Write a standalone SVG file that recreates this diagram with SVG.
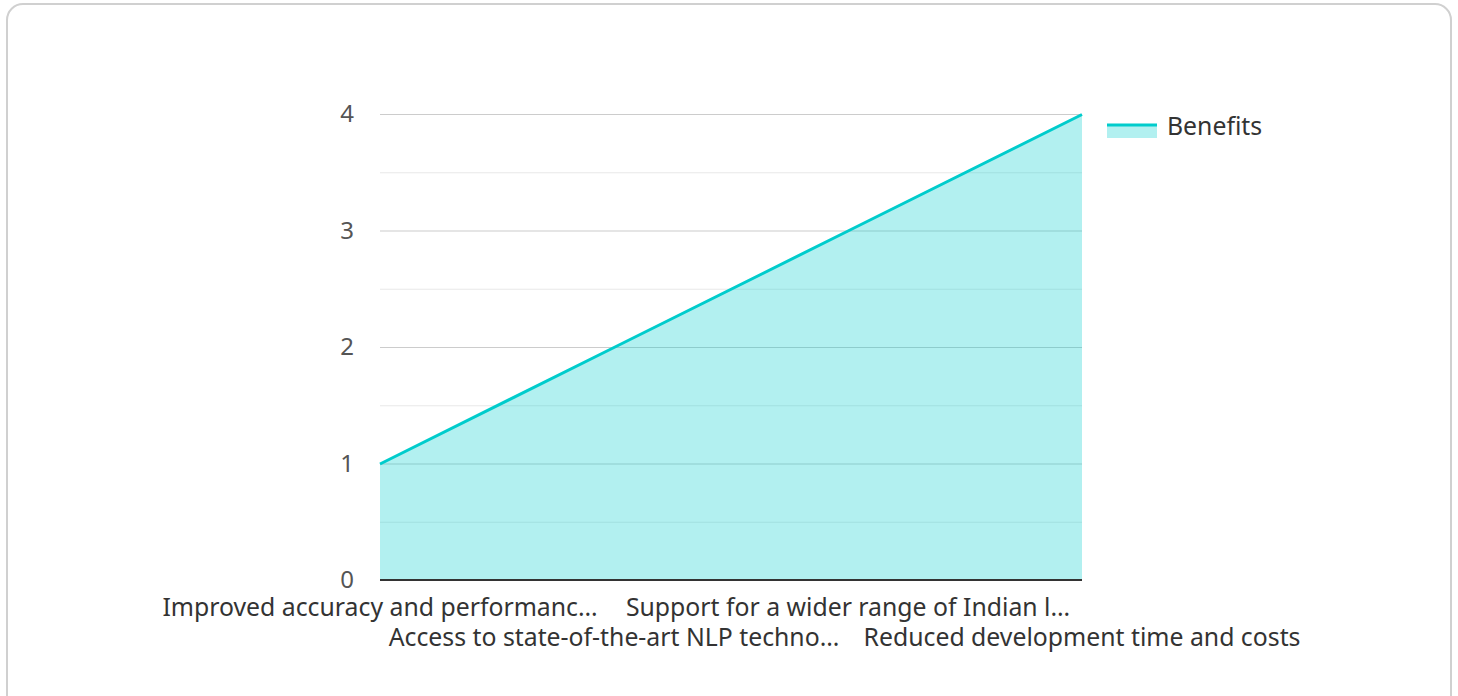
<svg xmlns="http://www.w3.org/2000/svg" width="1458" height="696" viewBox="0 0 1458 696">
<style>
text{font-family:"Noto Sans","Open Sans","DejaVu Sans",sans-serif;font-size:24.8px;fill:#333}
.ytick{text-anchor:end;fill:#555;font-size:24px}
.xtick{text-anchor:middle}
.major{stroke:#cccccc;stroke-width:1.2}
.minor{stroke:#e8e8e8;stroke-width:1.2}
</style>
<rect x="7" y="4" width="1444" height="710" rx="16" ry="16" fill="#fff" stroke="#d0d0d0" stroke-width="2"/>
<g id="grid">
<line class="major" x1="380" y1="114.5" x2="1082" y2="114.5"/>
<line class="minor" x1="380" y1="172.75" x2="1082" y2="172.75"/>
<line class="major" x1="380" y1="231" x2="1082" y2="231"/>
<line class="minor" x1="380" y1="289.25" x2="1082" y2="289.25"/>
<line class="major" x1="380" y1="347.5" x2="1082" y2="347.5"/>
<line class="minor" x1="380" y1="405.75" x2="1082" y2="405.75"/>
<line class="major" x1="380" y1="464" x2="1082" y2="464"/>
<line class="minor" x1="380" y1="522.25" x2="1082" y2="522.25"/>
</g>
<g id="series">
<polygon points="380,464 614,347.5 848,231 1082,114.5 1082,580 380,580" fill="#00cccc" fill-opacity="0.3"/>
<polyline points="380,464 614,347.5 848,231 1082,114.5" fill="none" stroke="#00cccc" stroke-width="3" stroke-linejoin="round"/>
</g>
<line id="axis" x1="380" y1="580" x2="1082" y2="580" stroke="#333" stroke-width="2"/>
<g id="yaxis">
<text class="ytick" x="354" y="122">4</text>
<text class="ytick" x="354" y="239">3</text>
<text class="ytick" x="354" y="355">2</text>
<text class="ytick" x="354" y="472">1</text>
<text class="ytick" x="354" y="588">0</text>
</g>
<g id="xaxis">
<text class="xtick" x="380" y="616">Improved accuracy and performanc…</text>
<text class="xtick" x="614" y="646">Access to state-of-the-art NLP techno…</text>
<text class="xtick" x="848" y="616">Support for a wider range of Indian l…</text>
<text class="xtick" x="1082" y="646">Reduced development time and costs</text>
</g>
<g id="legend">
<rect x="1107" y="125" width="50" height="13" fill="#00cccc" fill-opacity="0.3"/>
<line x1="1107" y1="125" x2="1157" y2="125" stroke="#00cccc" stroke-width="3"/>
<text x="1167" y="135">Benefits</text>
</g>
</svg>
